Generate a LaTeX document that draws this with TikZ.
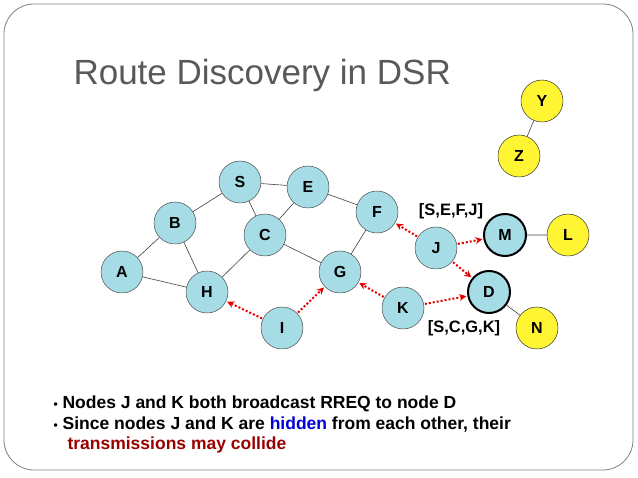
\documentclass[tikz,border=0pt]{standalone}
\usepackage{fontspec}
\setmainfont{Liberation Sans}
\usetikzlibrary{arrows.meta}
\definecolor{nodefill}{HTML}{A6DCE6}
\begin{document}
\begin{tikzpicture}[x=1pt,y=-1pt,
  nd/.style={circle,draw=black!70,line width=0.5pt,fill=nodefill,minimum size=42pt,inner sep=0pt,font=\fontsize{16}{16}\selectfont\bfseries},
  dst/.style={nd,line width=2pt,draw=black},
  yl/.style={nd,fill=yellow!80!white,draw=black!80},
  ed/.style={draw=black!75,line width=0.6pt},
  rr/.style={draw=red!90!black,line width=2pt,dotted,-{Stealth[length=7pt,width=7pt]},shorten >=1pt,shorten <=1pt}]
\useasboundingbox (0,0) rectangle (638,478);
\draw[gray,line width=0.8pt,rounded corners=30pt] (4,4) rectangle (633,470);
\node[anchor=base west,text=black!65,font=\fontsize{35}{35}\selectfont] (title) at (70,85) {Route Discovery in DSR};
\node[nd] (S) at (240,182) {S};
\node[nd] (E) at (308,187) {E};
\node[nd] (F) at (377,212) {F};
\node[nd] (B) at (175,223) {B};
\node[nd] (C) at (265,235) {C};
\node[nd] (J) at (436,248) {J};
\node[dst] (M) at (505,235) {M};
\node[yl] (L) at (568,235) {L};
\node[nd] (A) at (122,272) {A};
\node[nd] (H) at (207,292) {H};
\node[nd] (G) at (340,272) {G};
\node[dst] (D) at (489,292) {D};
\node[nd] (K) at (403,308) {K};
\node[nd] (I) at (282,328) {I};
\node[yl] (N) at (537,328) {N};
\node[yl] (Y) at (542,101) {Y};
\node[yl] (Z) at (519,156) {Z};
\draw[ed] (A)--(B) (A)--(H) (B)--(S) (B)--(H) (S)--(E) (S)--(C) (E)--(C) (E)--(F) (C)--(H) (C)--(G) (F)--(G) (M)--(L) (D)--(N) (Y)--(Z);
\draw[rr] (J)--(F);
\draw[rr] (J)--(M);
\draw[rr] (J)--(D);
\draw[rr] (K)--(G);
\draw[rr] (K)--(D);
\draw[rr] (I)--(H);
\draw[rr] (I)--(G);
\node[font=\fontsize{16.5}{16}\selectfont\bfseries] (l1) at (451,211) {[S,E,F,J]};
\node[font=\fontsize{16.5}{16}\selectfont\bfseries] (l2) at (464,328) {[S,C,G,K]};
\begin{scope}[font=\fontsize{17.5}{20}\selectfont\bfseries]
\node[anchor=base west] (t1) at (50,409) {{\fontsize{12}{12}\selectfont•} Nodes J and K both broadcast RREQ to node D};
\node[anchor=base west] (t2) at (50,430) {{\fontsize{12}{12}\selectfont•} Since nodes J and K are \textcolor{blue!85!black}{hidden} from each other, their};
\node[anchor=base west,text=red!60!black] (t3) at (64,450) {transmissions may collide};
\end{scope}
\end{tikzpicture}
\end{document}
